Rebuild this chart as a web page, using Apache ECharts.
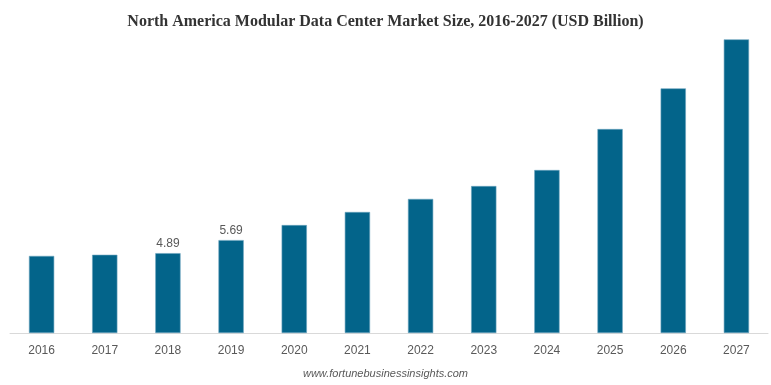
<!DOCTYPE html>
<html><head><meta charset="utf-8">
<script src="https://cdn.jsdelivr.net/npm/echarts@6/dist/echarts.min.js"></script>
<style>html,body{margin:0;padding:0;background:#fff}#c{width:771px;height:385px}</style>
</head><body><div id="c"></div>
<script>
const categories = ['2016','2017','2018','2019','2020','2021','2022','2023','2024','2025','2026','2027'];
const values = [4.72, 4.79, 4.89, 5.69, 6.61, 7.41, 8.21, 9.00, 9.98, 12.49, 14.98, 17.98];
const labeledYears = ['2018','2019'];
const chart = echarts.init(document.getElementById('c'));
chart.setOption({
  animation: false,
  title: {
    text: 'North America Modular Data Center Market Size, 2016-2027 (USD Billion)',
    left: 'center', top: 9,
    textStyle: {fontFamily: 'Liberation Serif', fontSize: 16, fontWeight: 'bold', color: '#333'}
  },
  graphic: [{
    type: 'text', left: 'center', top: 368,
    style: {text: 'www.fortunebusinessinsights.com', font: 'italic 11px Liberation Sans', fill: '#595959'}
  }],
  grid: {left: 10, right: 3, top: 39.06, bottom: 52},
  xAxis: {
    type: 'category', data: categories,
    axisLine: {lineStyle: {color: '#d9d9d9', width: 1}},
    axisTick: {show: false},
    axisLabel: {color: '#595959', fontFamily: 'Liberation Sans', fontSize: 12, margin: 12}
  },
  yAxis: {type: 'value', min: 0, max: 18, show: false, splitLine: {show: false}},
  series: [{
    type: 'bar', barWidth: '40%',
    data: values.map((v, i) => ({
      value: v,
      label: {show: labeledYears.includes(categories[i])}
    })),
    itemStyle: {color: '#03648a', borderColor: '#6aa3bd', borderWidth: 0.6},
    label: {position: 'top', distance: 3, color: '#595959', fontFamily: 'Liberation Sans', fontSize: 12,
      formatter: p => p.value.toFixed(2)}
  }]
});
</script></body></html>
